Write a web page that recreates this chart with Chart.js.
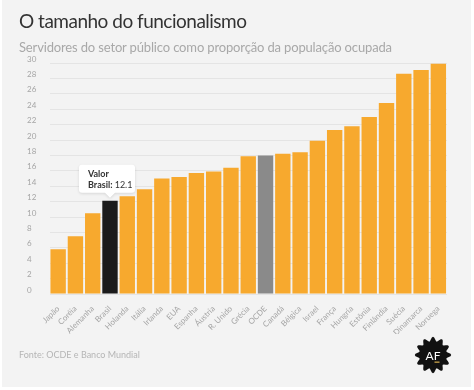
<!DOCTYPE html>
<html>
<head>
<meta charset="utf-8">
<script src="https://cdn.jsdelivr.net/npm/chart.js@4"></script>
<style>
  html, body { margin: 0; padding: 0; background: #fff; }
  #frame { position: absolute; left: 2px; top: 0; width: 469px; height: 387px; background: #f3f3f3; }
  #wrap { position: absolute; left: 0; top: 0; width: 474px; height: 390px; }
  .title { position: absolute; left: 19px; top: 9px; font: 19px Lato, sans-serif; letter-spacing: -0.5px; color: #333; white-space: nowrap; }
  .sub { position: absolute; left: 19px; top: 39px; font: 13px Lato, sans-serif; letter-spacing: -0.15px; color: #a8a8a8; white-space: nowrap; }
  .src { position: absolute; left: 19px; top: 349px; font: 9px Lato, sans-serif; color: #b5b5b5; }
  #logo { position: absolute; left: 413px; top: 335px; }
</style>
</head>
<body>
<div id="frame"></div>
<div id="wrap"><canvas id="chart" width="474" height="390"></canvas></div>
<div class="title">O tamanho do funcionalismo</div>
<div class="sub">Servidores do setor público como proporção da população ocupada</div>
<div class="src">Fonte: OCDE e Banco Mundial</div>
<svg id="logo" width="40" height="40" viewBox="0 0 40 40">
  <path id="badge" fill="#111" d=""></path>
  <text x="20" y="24.5" text-anchor="middle" font-family="Lato, sans-serif" font-size="12" fill="#fff">AF</text>
  <rect x="21.5" y="26.5" width="5" height="1.3" fill="#c8a24a"></rect>
</svg>
<script>
// dados
const paises = ['Japão', 'Coréia', 'Alemanha', 'Brasil', 'Holanda', 'Itália', 'Irlanda', 'EUA', 'Espanha',
  'Áustria', 'R. Unido', 'Grécia', 'OCDE', 'Canadá', 'Bélgica', 'Israel', 'França', 'Hungria', 'Estônia',
  'Finlândia', 'Suécia', 'Dinamarca', 'Noruega'];
const valores = [5.8, 7.5, 10.5, 12.1, 12.7, 13.6, 15.0, 15.2, 15.7, 15.9, 16.4, 17.9, 18.0, 18.2, 18.4,
  19.9, 21.3, 21.8, 23.0, 24.8, 28.6, 29.1, 29.9];
const yTicks = [0, 2, 4, 6, 8, 10, 12, 14, 16, 18, 20, 22, 24, 26, 28, 30];

// badge shape
(function () {
  let d = '';
  const n = 12;
  for (let i = 0; i <= n * 8; i++) {
    const a = (i / (n * 8)) * Math.PI * 2;
    const r = 16 + 2.2 * Math.cos(a * n);
    d += (i ? 'L' : 'M') + (20 + r * Math.cos(a)).toFixed(2) + ' ' + (20 + r * Math.sin(a)).toFixed(2);
  }
  document.getElementById('badge').setAttribute('d', d + 'Z');
})();

const cores = paises.map(p => p === 'Brasil' ? '#1b1b1b' : p === 'OCDE' ? '#8a8a8a' : '#f7a92e');

const tooltipBrasil = {
  id: 'tooltipBrasil',
  afterDatasetsDraw(chart) {
    const i = paises.indexOf('Brasil');
    const bar = chart.getDatasetMeta(0).data[i];
    const ctx = chart.ctx;
    const w = 56, h = 28;
    const bx = bar.x - 31, by = bar.y - h - 8;
    ctx.save();
    ctx.shadowColor = 'rgba(0,0,0,0.12)';
    ctx.shadowBlur = 3;
    ctx.shadowOffsetY = 1;
    ctx.fillStyle = '#fff';
    ctx.beginPath();
    ctx.moveTo(bx + 3, by);
    ctx.lineTo(bx + w - 3, by);
    ctx.quadraticCurveTo(bx + w, by, bx + w, by + 3);
    ctx.lineTo(bx + w, by + h - 3);
    ctx.quadraticCurveTo(bx + w, by + h, bx + w - 3, by + h);
    ctx.lineTo(bar.x + 5, by + h);
    ctx.lineTo(bar.x, by + h + 5);
    ctx.lineTo(bar.x - 5, by + h);
    ctx.lineTo(bx + 3, by + h);
    ctx.quadraticCurveTo(bx, by + h, bx, by + h - 3);
    ctx.lineTo(bx, by + 3);
    ctx.quadraticCurveTo(bx, by, bx + 3, by);
    ctx.closePath();
    ctx.fill();
    ctx.restore();
    ctx.save();
    ctx.fillStyle = '#333';
    ctx.textBaseline = 'alphabetic';
    ctx.font = 'bold 9px Lato, sans-serif';
    ctx.fillText('Valor', bx + 9, by + 12);
    ctx.fillText('Brasil:', bx + 9, by + 23);
    const bw = ctx.measureText('Brasil: ').width;
    ctx.font = '9px Lato, sans-serif';
    ctx.fillText(String(valores[i]), bx + 9 + bw, by + 23);
    ctx.restore();
  }
};

new Chart(document.getElementById('chart'), {
  type: 'bar',
  data: {
    labels: paises,
    datasets: [{
      data: valores,
      backgroundColor: cores,
      barPercentage: 0.89,
      categoryPercentage: 1
    }]
  },
  options: {
    responsive: false,
    animation: false,
    layout: { padding: { left: 27, right: 27, top: 63, bottom: 56 } },
    plugins: { legend: { display: false }, tooltip: { enabled: false } },
    scales: {
      x: {
        grid: { display: false },
        border: { display: false },
        ticks: {
          color: '#a5a5a5',
          font: { family: 'Lato, sans-serif', size: 8 },
          maxRotation: 45,
          minRotation: 45,
          autoSkip: false,
          padding: 2
        },
        afterFit(s) { s.height = 40; }
      },
      y: {
        min: 0,
        max: 30,
        afterBuildTicks(s) { s.ticks = yTicks.map(v => ({ value: v })); },
        grid: { color: '#e4e4e4', drawTicks: false },
        border: { display: false },
        ticks: {
          color: '#a5a5a5',
          font: { family: 'Lato, sans-serif', size: 8 },
          crossAlign: 'far',
          labelOffset: -4
        },
        afterFit(s) { s.width = 22.5; }
      }
    }
  },
  plugins: [tooltipBrasil]
});
</script>
</body>
</html>
